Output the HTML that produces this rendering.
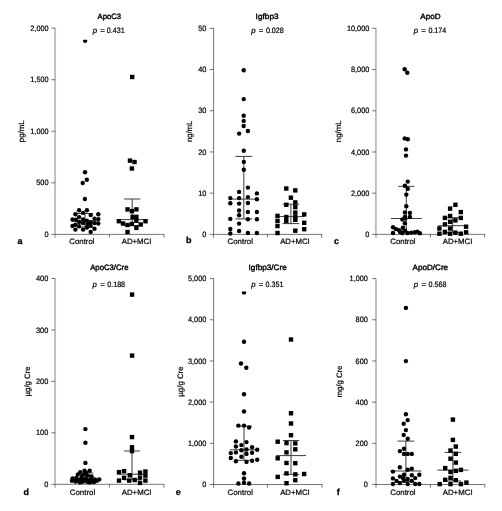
<!DOCTYPE html>
<html lang="en"><head><meta charset="utf-8"><title>Figure</title>
<style>html,body{margin:0;padding:0;background:#fff}svg{display:block}text{font-family:"Liberation Sans", Arial, Helvetica, sans-serif;fill:#000;text-rendering:geometricPrecision}.t{font-size:7.8px;stroke:#000;stroke-width:.21px}.ti{font-size:7.8px;stroke:#000;stroke-width:.38px}.l{font-size:9px;font-weight:bold;stroke:#000;stroke-width:.25px}.ax{stroke:#404040;stroke-width:.72;fill:none}.ay{stroke:#bdbdbd;stroke-width:1.9;fill:none}.eb{stroke:#3c3c3c;stroke-width:1;fill:none}.d{fill:#000}</style></head><body>
<svg width="502" height="511" viewBox="0 0 502 511">
<rect width="502" height="511" fill="#fff"/>
<g>
<line class="ay" x1="55.1" y1="27.95" x2="55.1" y2="237.7"/>
<line class="ax" x1="51.2" y1="234.4" x2="164.3" y2="234.4"/>
<line class="ax" x1="109.45" y1="234.4" x2="109.45" y2="237.6"/>
<line class="ax" x1="164" y1="234.4" x2="164" y2="237.6"/>
<text class="t" x="44.48" y="236.95" textLength="4.12" lengthAdjust="spacingAndGlyphs">0</text>
<line class="ax" x1="51.2" y1="182.84" x2="55.1" y2="182.84"/>
<text class="t" x="36.24" y="185.39" textLength="12.36" lengthAdjust="spacingAndGlyphs">500</text>
<line class="ax" x1="51.2" y1="131.28" x2="55.1" y2="131.28"/>
<text class="t" x="30.32" y="133.83" textLength="18.28" lengthAdjust="spacingAndGlyphs">1,000</text>
<line class="ax" x1="51.2" y1="79.71" x2="55.1" y2="79.71"/>
<text class="t" x="30.32" y="82.26" textLength="18.28" lengthAdjust="spacingAndGlyphs">1,500</text>
<line class="ax" x1="51.2" y1="28.15" x2="55.1" y2="28.15"/>
<text class="t" x="30.32" y="30.7" textLength="18.28" lengthAdjust="spacingAndGlyphs">2,000</text>
<path class="eb" d="M85 213.5V227M76.9 213.5H93.1M76.9 227H93.1M71.5 221H98.5"/>
<path class="eb" d="M132.2 199V225.5M124.1 199H140.3M124.1 225.5H140.3M117.2 219.6H147.2"/>
<circle class="d" cx="85" cy="172.3" r="2.2"/>
<circle class="d" cx="86.8" cy="179.7" r="2.2"/>
<circle class="d" cx="82.7" cy="183" r="2.2"/>
<circle class="d" cx="84.9" cy="199" r="2.2"/>
<circle class="d" cx="79.1" cy="210.2" r="2.2"/>
<circle class="d" cx="86.9" cy="210.2" r="2.2"/>
<circle class="d" cx="75.4" cy="214.2" r="2.2"/>
<circle class="d" cx="83.1" cy="212.9" r="2.2"/>
<circle class="d" cx="90.7" cy="215.1" r="2.2"/>
<circle class="d" cx="98.3" cy="214.2" r="2.2"/>
<circle class="d" cx="79.1" cy="217.1" r="2.2"/>
<circle class="d" cx="72.5" cy="219.5" r="2.2"/>
<circle class="d" cx="76" cy="219.8" r="2.2"/>
<circle class="d" cx="83.1" cy="219.5" r="2.2"/>
<circle class="d" cx="86.9" cy="220.7" r="2.2"/>
<circle class="d" cx="94.5" cy="218.7" r="2.2"/>
<circle class="d" cx="98.3" cy="219.1" r="2.2"/>
<circle class="d" cx="79.1" cy="221.9" r="2.2"/>
<circle class="d" cx="83.1" cy="223.1" r="2.2"/>
<circle class="d" cx="90.7" cy="222.3" r="2.2"/>
<circle class="d" cx="94.5" cy="223.1" r="2.2"/>
<circle class="d" cx="98.3" cy="223.5" r="2.2"/>
<circle class="d" cx="72.5" cy="225.9" r="2.2"/>
<circle class="d" cx="75.4" cy="224.7" r="2.2"/>
<circle class="d" cx="79.1" cy="226.3" r="2.2"/>
<circle class="d" cx="86.9" cy="227.5" r="2.2"/>
<circle class="d" cx="90.7" cy="225.9" r="2.2"/>
<circle class="d" cx="75.4" cy="229.6" r="2.2"/>
<circle class="d" cx="83.1" cy="229.6" r="2.2"/>
<circle class="d" cx="94.5" cy="228.7" r="2.2"/>
<circle class="d" cx="90.7" cy="231.9" r="2.2"/>
<circle class="d" cx="87.5" cy="224" r="2.2"/>
<clipPath id="c1"><rect x="81.15" y="39.7" width="8" height="8"/></clipPath>
<circle class="d" cx="85.15" cy="40.8" r="2.2" clip-path="url(#c1)"/>
<rect class="d" x="130" y="74.8" width="4.4" height="4.4"/>
<rect class="d" x="127.8" y="158.4" width="4.4" height="4.4"/>
<rect class="d" x="132.3" y="159.8" width="4.4" height="4.4"/>
<rect class="d" x="129.7" y="166.3" width="4.4" height="4.4"/>
<rect class="d" x="125.3" y="207.2" width="4.4" height="4.4"/>
<rect class="d" x="134.2" y="207.2" width="4.4" height="4.4"/>
<rect class="d" x="129.7" y="208.9" width="4.4" height="4.4"/>
<rect class="d" x="130.4" y="214.7" width="4.4" height="4.4"/>
<rect class="d" x="134.2" y="214.7" width="4.4" height="4.4"/>
<rect class="d" x="116.7" y="219" width="4.4" height="4.4"/>
<rect class="d" x="143.3" y="219" width="4.4" height="4.4"/>
<rect class="d" x="134.2" y="218.5" width="4.4" height="4.4"/>
<rect class="d" x="120.8" y="221.3" width="4.4" height="4.4"/>
<rect class="d" x="138.5" y="222.3" width="4.4" height="4.4"/>
<rect class="d" x="125.3" y="222.8" width="4.4" height="4.4"/>
<rect class="d" x="129.7" y="221.8" width="4.4" height="4.4"/>
<rect class="d" x="134.2" y="225.7" width="4.4" height="4.4"/>
<rect class="d" x="125.3" y="229.8" width="4.4" height="4.4"/>
<text class="ti" x="97.6" y="18.8" textLength="23.5" lengthAdjust="spacingAndGlyphs">ApoC3</text>
<text class="t" y="32.8"><tspan x="92.7" font-style="italic">p</tspan><tspan x="100.3">=</tspan><tspan x="106.8" textLength="17.9" lengthAdjust="spacingAndGlyphs">0.431</tspan></text>
<text class="t" transform="translate(23.9 131.28) rotate(-90)" x="-10.95" y="0" textLength="21.9" lengthAdjust="spacingAndGlyphs">pg/mL</text>
<text class="t" x="69.3" y="243.6" textLength="25.2" lengthAdjust="spacingAndGlyphs">Control</text>
<text class="t" x="121.7" y="243.6" textLength="29.7" lengthAdjust="spacingAndGlyphs">AD+MCI</text>
<text class="l" x="17.4" y="243.9">a</text>
</g>
<g>
<line class="ax" x1="213.6" y1="28" x2="213.6" y2="237.7"/>
<line class="ax" x1="209.7" y1="234.4" x2="322" y2="234.4"/>
<line class="ax" x1="267.4" y1="234.4" x2="267.4" y2="237.6"/>
<line class="ax" x1="321.7" y1="234.4" x2="321.7" y2="237.6"/>
<text class="t" x="202.28" y="236.95" textLength="4.12" lengthAdjust="spacingAndGlyphs">0</text>
<line class="ax" x1="209.7" y1="193.18" x2="213.6" y2="193.18"/>
<text class="t" x="198.16" y="195.73" textLength="8.24" lengthAdjust="spacingAndGlyphs">10</text>
<line class="ax" x1="209.7" y1="151.96" x2="213.6" y2="151.96"/>
<text class="t" x="198.16" y="154.51" textLength="8.24" lengthAdjust="spacingAndGlyphs">20</text>
<line class="ax" x1="209.7" y1="110.74" x2="213.6" y2="110.74"/>
<text class="t" x="198.16" y="113.29" textLength="8.24" lengthAdjust="spacingAndGlyphs">30</text>
<line class="ax" x1="209.7" y1="69.52" x2="213.6" y2="69.52"/>
<text class="t" x="198.16" y="72.07" textLength="8.24" lengthAdjust="spacingAndGlyphs">40</text>
<line class="ax" x1="209.7" y1="28.3" x2="213.6" y2="28.3"/>
<text class="t" x="198.16" y="30.85" textLength="8.24" lengthAdjust="spacingAndGlyphs">50</text>
<path class="eb" d="M243.8 156.4V218.9M235.3 156.4H252.3M235.3 218.9H252.3M230.4 199.1H257.2"/>
<path class="eb" d="M290.9 204.2V223.6M282.6 204.2H299.2M282.6 223.6H299.2M277.5 216.6H304.3"/>
<circle class="d" cx="243.7" cy="70.2" r="2.2"/>
<circle class="d" cx="243.7" cy="99.1" r="2.2"/>
<circle class="d" cx="243.7" cy="115.8" r="2.2"/>
<circle class="d" cx="243.7" cy="120.9" r="2.2"/>
<circle class="d" cx="243.7" cy="126" r="2.2"/>
<circle class="d" cx="247.9" cy="131" r="2.2"/>
<circle class="d" cx="239.1" cy="133.6" r="2.2"/>
<circle class="d" cx="243.8" cy="150.8" r="2.2"/>
<circle class="d" cx="243.8" cy="161.9" r="2.2"/>
<circle class="d" cx="243.8" cy="169.7" r="2.2"/>
<circle class="d" cx="247.9" cy="187.6" r="2.2"/>
<circle class="d" cx="239.1" cy="191.9" r="2.2"/>
<circle class="d" cx="256.9" cy="193.4" r="2.2"/>
<circle class="d" cx="230.3" cy="198.1" r="2.2"/>
<circle class="d" cx="239.1" cy="198.1" r="2.2"/>
<circle class="d" cx="247.9" cy="197.1" r="2.2"/>
<circle class="d" cx="256.9" cy="199.3" r="2.2"/>
<circle class="d" cx="230.3" cy="203.2" r="2.2"/>
<circle class="d" cx="239.1" cy="203.6" r="2.2"/>
<circle class="d" cx="247.9" cy="203" r="2.2"/>
<circle class="d" cx="239.1" cy="210.5" r="2.2"/>
<circle class="d" cx="247.9" cy="212" r="2.2"/>
<circle class="d" cx="256.9" cy="212" r="2.2"/>
<circle class="d" cx="239.1" cy="215.3" r="2.2"/>
<circle class="d" cx="230.3" cy="218.9" r="2.2"/>
<circle class="d" cx="247.9" cy="219.3" r="2.2"/>
<circle class="d" cx="256.9" cy="219.3" r="2.2"/>
<circle class="d" cx="239.1" cy="223.6" r="2.2"/>
<circle class="d" cx="230.3" cy="229" r="2.2"/>
<circle class="d" cx="239.1" cy="231" r="2.2"/>
<circle class="d" cx="230.3" cy="233.5" r="2.2"/>
<circle class="d" cx="247.9" cy="233" r="2.2"/>
<circle class="d" cx="256.9" cy="233" r="2.2"/>
<rect class="d" x="284.1" y="186.3" width="4.4" height="4.4"/>
<rect class="d" x="293.1" y="188.2" width="4.4" height="4.4"/>
<rect class="d" x="288.7" y="195.5" width="4.4" height="4.4"/>
<rect class="d" x="293.1" y="200.2" width="4.4" height="4.4"/>
<rect class="d" x="284.1" y="202.6" width="4.4" height="4.4"/>
<rect class="d" x="293.1" y="204.9" width="4.4" height="4.4"/>
<rect class="d" x="293.1" y="210.4" width="4.4" height="4.4"/>
<rect class="d" x="302" y="212.2" width="4.4" height="4.4"/>
<rect class="d" x="275.3" y="213.7" width="4.4" height="4.4"/>
<rect class="d" x="284.1" y="214.8" width="4.4" height="4.4"/>
<rect class="d" x="293.1" y="214.8" width="4.4" height="4.4"/>
<rect class="d" x="275.3" y="218.7" width="4.4" height="4.4"/>
<rect class="d" x="284.1" y="218.8" width="4.4" height="4.4"/>
<rect class="d" x="293.1" y="217.6" width="4.4" height="4.4"/>
<rect class="d" x="302" y="220.6" width="4.4" height="4.4"/>
<rect class="d" x="275.3" y="223.8" width="4.4" height="4.4"/>
<rect class="d" x="302" y="227" width="4.4" height="4.4"/>
<rect class="d" x="293.1" y="228.5" width="4.4" height="4.4"/>
<rect class="d" x="275.3" y="230.8" width="4.4" height="4.4"/>
<text class="ti" x="255.6" y="18.7" textLength="23" lengthAdjust="spacingAndGlyphs">Igfbp3</text>
<text class="t" y="33"><tspan x="251.2" font-style="italic">p</tspan><tspan x="258.8">=</tspan><tspan x="265.9" textLength="17.9" lengthAdjust="spacingAndGlyphs">0.028</tspan></text>
<text class="t" transform="translate(192.4 131.35) rotate(-90)" x="-10.6" y="0" textLength="21.2" lengthAdjust="spacingAndGlyphs">ng/mL</text>
<text class="t" x="227.6" y="243.6" textLength="25.3" lengthAdjust="spacingAndGlyphs">Control</text>
<text class="t" x="280.2" y="243.6" textLength="29.6" lengthAdjust="spacingAndGlyphs">AD+MCI</text>
<text class="l" x="185.9" y="243.4">b</text>
</g>
<g>
<line class="ay" x1="375.9" y1="28.1" x2="375.9" y2="237.7"/>
<line class="ax" x1="372.1" y1="234.4" x2="485" y2="234.4"/>
<line class="ax" x1="430.5" y1="234.4" x2="430.5" y2="237.6"/>
<line class="ax" x1="484.7" y1="234.4" x2="484.7" y2="237.6"/>
<text class="t" x="365.18" y="236.95" textLength="4.12" lengthAdjust="spacingAndGlyphs">0</text>
<line class="ax" x1="372.1" y1="193.18" x2="375.9" y2="193.18"/>
<text class="t" x="351.02" y="195.73" textLength="18.28" lengthAdjust="spacingAndGlyphs">2,000</text>
<line class="ax" x1="372.1" y1="151.96" x2="375.9" y2="151.96"/>
<text class="t" x="351.02" y="154.51" textLength="18.28" lengthAdjust="spacingAndGlyphs">4,000</text>
<line class="ax" x1="372.1" y1="110.74" x2="375.9" y2="110.74"/>
<text class="t" x="351.02" y="113.29" textLength="18.28" lengthAdjust="spacingAndGlyphs">6,000</text>
<line class="ax" x1="372.1" y1="69.52" x2="375.9" y2="69.52"/>
<text class="t" x="351.02" y="72.07" textLength="18.28" lengthAdjust="spacingAndGlyphs">8,000</text>
<line class="ax" x1="372.1" y1="28.3" x2="375.9" y2="28.3"/>
<text class="t" x="346.9" y="30.85" textLength="22.4" lengthAdjust="spacingAndGlyphs">10,000</text>
<path class="eb" d="M406.3 186.3V233M398.2 186.3H414.4M398.2 233H414.4M390.9 218.5H421.7"/>
<path class="eb" d="M452.6 217.7V232.5M444.5 217.7H460.7M444.5 232.5H460.7M438.1 225.7H467.1"/>
<circle class="d" cx="404.7" cy="69.2" r="2.2"/>
<circle class="d" cx="407.3" cy="72.7" r="2.2"/>
<circle class="d" cx="404.7" cy="138.4" r="2.2"/>
<circle class="d" cx="407.8" cy="139.3" r="2.2"/>
<circle class="d" cx="406" cy="149.4" r="2.2"/>
<circle class="d" cx="406" cy="155.6" r="2.2"/>
<circle class="d" cx="407.8" cy="181.6" r="2.2"/>
<circle class="d" cx="404.9" cy="185.8" r="2.2"/>
<circle class="d" cx="407.8" cy="188.8" r="2.2"/>
<circle class="d" cx="406.3" cy="194.6" r="2.2"/>
<circle class="d" cx="406.3" cy="206.2" r="2.2"/>
<circle class="d" cx="404.9" cy="212.4" r="2.2"/>
<circle class="d" cx="409.9" cy="212.9" r="2.2"/>
<circle class="d" cx="404.9" cy="217" r="2.2"/>
<circle class="d" cx="409.9" cy="217" r="2.2"/>
<circle class="d" cx="402.4" cy="219.4" r="2.2"/>
<circle class="d" cx="405.4" cy="218.4" r="2.2"/>
<circle class="d" cx="404.9" cy="223.2" r="2.2"/>
<circle class="d" cx="393" cy="227.3" r="2.2"/>
<circle class="d" cx="395.8" cy="229" r="2.2"/>
<circle class="d" cx="399.1" cy="230.2" r="2.2"/>
<circle class="d" cx="402.9" cy="227.8" r="2.2"/>
<circle class="d" cx="404.9" cy="230.6" r="2.2"/>
<circle class="d" cx="393" cy="233" r="2.2"/>
<circle class="d" cx="402.4" cy="233" r="2.2"/>
<circle class="d" cx="407.4" cy="233" r="2.2"/>
<circle class="d" cx="411.2" cy="232.6" r="2.2"/>
<circle class="d" cx="414.9" cy="232.3" r="2.2"/>
<circle class="d" cx="417.4" cy="231.8" r="2.2"/>
<circle class="d" cx="419.9" cy="233.3" r="2.2"/>
<circle class="d" cx="400.5" cy="232.2" r="2.2"/>
<rect class="d" x="453.2" y="202.6" width="4.4" height="4.4"/>
<rect class="d" x="447.9" y="206.4" width="4.4" height="4.4"/>
<rect class="d" x="458.6" y="209.9" width="4.4" height="4.4"/>
<rect class="d" x="447.9" y="213.8" width="4.4" height="4.4"/>
<rect class="d" x="442.7" y="215.7" width="4.4" height="4.4"/>
<rect class="d" x="458.6" y="215.7" width="4.4" height="4.4"/>
<rect class="d" x="453.2" y="218.2" width="4.4" height="4.4"/>
<rect class="d" x="447.9" y="219.6" width="4.4" height="4.4"/>
<rect class="d" x="442.7" y="222.2" width="4.4" height="4.4"/>
<rect class="d" x="463.9" y="224.5" width="4.4" height="4.4"/>
<rect class="d" x="437.2" y="226.3" width="4.4" height="4.4"/>
<rect class="d" x="447.9" y="226.3" width="4.4" height="4.4"/>
<rect class="d" x="442.7" y="229.7" width="4.4" height="4.4"/>
<rect class="d" x="453.2" y="230.5" width="4.4" height="4.4"/>
<rect class="d" x="463.9" y="230.1" width="4.4" height="4.4"/>
<rect class="d" x="437.2" y="231.5" width="4.4" height="4.4"/>
<rect class="d" x="447.9" y="231.5" width="4.4" height="4.4"/>
<rect class="d" x="458.6" y="231.5" width="4.4" height="4.4"/>
<text class="ti" x="420.3" y="18.7" textLength="20.4" lengthAdjust="spacingAndGlyphs">ApoD</text>
<text class="t" y="33"><tspan x="413.7" font-style="italic">p</tspan><tspan x="421.3">=</tspan><tspan x="428.4" textLength="17.9" lengthAdjust="spacingAndGlyphs">0.174</tspan></text>
<text class="t" transform="translate(340.6 131.35) rotate(-90)" x="-10.8" y="0" textLength="21.6" lengthAdjust="spacingAndGlyphs">ng/mL</text>
<text class="t" x="390.3" y="243.5" textLength="25.2" lengthAdjust="spacingAndGlyphs">Control</text>
<text class="t" x="442.7" y="243.5" textLength="29.7" lengthAdjust="spacingAndGlyphs">AD+MCI</text>
<text class="l" x="334" y="243.6">c</text>
</g>
<g>
<line class="ay" x1="55.1" y1="278.3" x2="55.1" y2="487.6"/>
<line class="ax" x1="51.3" y1="484.3" x2="164.2" y2="484.3"/>
<line class="ax" x1="109.4" y1="484.3" x2="109.4" y2="487.5"/>
<line class="ax" x1="163.9" y1="484.3" x2="163.9" y2="487.5"/>
<text class="t" x="44.18" y="486.85" textLength="4.12" lengthAdjust="spacingAndGlyphs">0</text>
<line class="ax" x1="51.3" y1="432.85" x2="55.1" y2="432.85"/>
<text class="t" x="35.94" y="435.4" textLength="12.36" lengthAdjust="spacingAndGlyphs">100</text>
<line class="ax" x1="51.3" y1="381.4" x2="55.1" y2="381.4"/>
<text class="t" x="35.94" y="383.95" textLength="12.36" lengthAdjust="spacingAndGlyphs">200</text>
<line class="ax" x1="51.3" y1="329.95" x2="55.1" y2="329.95"/>
<text class="t" x="35.94" y="332.5" textLength="12.36" lengthAdjust="spacingAndGlyphs">300</text>
<line class="ax" x1="51.3" y1="278.5" x2="55.1" y2="278.5"/>
<text class="t" x="35.94" y="281.05" textLength="12.36" lengthAdjust="spacingAndGlyphs">400</text>
<path class="eb" d="M85.3 473V482M77.2 473H93.4M77.2 482H93.4M71.8 479.5H98.8"/>
<path class="eb" d="M132 451V479.8M123.9 451H140.1M123.9 479.8H140.1M117.1 474.2H146.9"/>
<circle class="d" cx="85.4" cy="429.1" r="2.2"/>
<circle class="d" cx="85.4" cy="442.7" r="2.2"/>
<circle class="d" cx="85.4" cy="462.9" r="2.2"/>
<circle class="d" cx="84.5" cy="470.8" r="2.2"/>
<circle class="d" cx="89.7" cy="470.8" r="2.2"/>
<circle class="d" cx="80.2" cy="472.2" r="2.2"/>
<circle class="d" cx="77.8" cy="474.6" r="2.2"/>
<circle class="d" cx="84.5" cy="474.2" r="2.2"/>
<circle class="d" cx="87.8" cy="475.6" r="2.2"/>
<circle class="d" cx="91.6" cy="476.5" r="2.2"/>
<circle class="d" cx="72.5" cy="478.4" r="2.2"/>
<circle class="d" cx="76.3" cy="478" r="2.2"/>
<circle class="d" cx="81.1" cy="478.4" r="2.2"/>
<circle class="d" cx="85.9" cy="478.9" r="2.2"/>
<circle class="d" cx="90.7" cy="478.9" r="2.2"/>
<circle class="d" cx="95" cy="479.4" r="2.2"/>
<circle class="d" cx="99.3" cy="479.4" r="2.2"/>
<circle class="d" cx="72" cy="480.8" r="2.2"/>
<circle class="d" cx="79.7" cy="482.2" r="2.2"/>
<circle class="d" cx="83.5" cy="481.3" r="2.2"/>
<circle class="d" cx="87.3" cy="481.8" r="2.2"/>
<circle class="d" cx="92.6" cy="481.3" r="2.2"/>
<circle class="d" cx="96.9" cy="480.8" r="2.2"/>
<circle class="d" cx="75.5" cy="481.5" r="2.2"/>
<circle class="d" cx="89.5" cy="482.4" r="2.2"/>
<circle class="d" cx="82" cy="476" r="2.2"/>
<circle class="d" cx="94" cy="482" r="2.2"/>
<circle class="d" cx="78" cy="480" r="2.2"/>
<circle class="d" cx="86" cy="472.5" r="2.2"/>
<circle class="d" cx="88.5" cy="480.5" r="2.2"/>
<circle class="d" cx="81.5" cy="482" r="2.2"/>
<circle class="d" cx="91" cy="481.5" r="2.2"/>
<circle class="d" cx="84" cy="479.5" r="2.2"/>
<rect class="d" x="129.9" y="292.4" width="4.4" height="4.4"/>
<rect class="d" x="129.9" y="353.4" width="4.4" height="4.4"/>
<rect class="d" x="129.8" y="434.9" width="4.4" height="4.4"/>
<rect class="d" x="129.8" y="445.1" width="4.4" height="4.4"/>
<rect class="d" x="129.8" y="448.9" width="4.4" height="4.4"/>
<rect class="d" x="116.8" y="469.9" width="4.4" height="4.4"/>
<rect class="d" x="121.9" y="468.9" width="4.4" height="4.4"/>
<rect class="d" x="137.8" y="470.5" width="4.4" height="4.4"/>
<rect class="d" x="143.2" y="469.3" width="4.4" height="4.4"/>
<rect class="d" x="127.6" y="473.1" width="4.4" height="4.4"/>
<rect class="d" x="143.2" y="473.4" width="4.4" height="4.4"/>
<rect class="d" x="121.9" y="475.6" width="4.4" height="4.4"/>
<rect class="d" x="137.8" y="475.4" width="4.4" height="4.4"/>
<rect class="d" x="116.8" y="478.4" width="4.4" height="4.4"/>
<rect class="d" x="127" y="478.4" width="4.4" height="4.4"/>
<rect class="d" x="132.5" y="477.8" width="4.4" height="4.4"/>
<rect class="d" x="143.2" y="478.4" width="4.4" height="4.4"/>
<rect class="d" x="137.8" y="480.7" width="4.4" height="4.4"/>
<text class="ti" x="90.2" y="269.5" textLength="38.3" lengthAdjust="spacingAndGlyphs">ApoC3/Cre</text>
<text class="t" y="286.8"><tspan x="92.6" font-style="italic">p</tspan><tspan x="100.2">=</tspan><tspan x="107.2" textLength="17.9" lengthAdjust="spacingAndGlyphs">0.188</tspan></text>
<text class="t" transform="translate(30 381.4) rotate(-90)" x="-15" y="0" textLength="30" lengthAdjust="spacingAndGlyphs">µg/g Cre</text>
<text class="t" x="69.8" y="494.6" textLength="25.4" lengthAdjust="spacingAndGlyphs">Control</text>
<text class="t" x="121.7" y="494.6" textLength="29.8" lengthAdjust="spacingAndGlyphs">AD+MCI</text>
<text class="l" x="23.4" y="494.7">d</text>
</g>
<g>
<line class="ax" x1="213.6" y1="278.3" x2="213.6" y2="487.8"/>
<line class="ax" x1="209.8" y1="484.5" x2="322.3" y2="484.5"/>
<line class="ax" x1="267.4" y1="484.5" x2="267.4" y2="487.7"/>
<line class="ax" x1="322" y1="484.5" x2="322" y2="487.7"/>
<text class="t" x="202.18" y="487.05" textLength="4.12" lengthAdjust="spacingAndGlyphs">0</text>
<line class="ax" x1="209.8" y1="443.32" x2="213.6" y2="443.32"/>
<text class="t" x="188.02" y="445.87" textLength="18.28" lengthAdjust="spacingAndGlyphs">1,000</text>
<line class="ax" x1="209.8" y1="402.14" x2="213.6" y2="402.14"/>
<text class="t" x="188.02" y="404.69" textLength="18.28" lengthAdjust="spacingAndGlyphs">2,000</text>
<line class="ax" x1="209.8" y1="360.96" x2="213.6" y2="360.96"/>
<text class="t" x="188.02" y="363.51" textLength="18.28" lengthAdjust="spacingAndGlyphs">3,000</text>
<line class="ax" x1="209.8" y1="319.78" x2="213.6" y2="319.78"/>
<text class="t" x="188.02" y="322.33" textLength="18.28" lengthAdjust="spacingAndGlyphs">4,000</text>
<line class="ax" x1="209.8" y1="278.6" x2="213.6" y2="278.6"/>
<text class="t" x="188.02" y="281.15" textLength="18.28" lengthAdjust="spacingAndGlyphs">5,000</text>
<path class="eb" d="M244 426.2V460.3M236 426.2H252M236 460.3H252M229.7 449.8H258.3"/>
<path class="eb" d="M291 440.5V474.4M282.9 440.5H299.1M282.9 474.4H299.1M275.9 455.6H306.1"/>
<circle class="d" cx="244" cy="341.8" r="2.2"/>
<circle class="d" cx="241" cy="363.5" r="2.2"/>
<circle class="d" cx="246.3" cy="367.8" r="2.2"/>
<circle class="d" cx="244" cy="394.2" r="2.2"/>
<circle class="d" cx="244" cy="411.5" r="2.2"/>
<circle class="d" cx="238.4" cy="425.6" r="2.2"/>
<circle class="d" cx="244" cy="425.6" r="2.2"/>
<circle class="d" cx="249.1" cy="427.5" r="2.2"/>
<circle class="d" cx="235.9" cy="441.4" r="2.2"/>
<circle class="d" cx="246.5" cy="442.1" r="2.2"/>
<circle class="d" cx="235.9" cy="446.5" r="2.2"/>
<circle class="d" cx="241.4" cy="445.1" r="2.2"/>
<circle class="d" cx="241.4" cy="450.2" r="2.2"/>
<circle class="d" cx="246.5" cy="449.5" r="2.2"/>
<circle class="d" cx="252.1" cy="447.3" r="2.2"/>
<circle class="d" cx="257.2" cy="449.8" r="2.2"/>
<circle class="d" cx="230.8" cy="453.1" r="2.2"/>
<circle class="d" cx="235.9" cy="452.4" r="2.2"/>
<circle class="d" cx="246.5" cy="453.9" r="2.2"/>
<circle class="d" cx="252.1" cy="452.8" r="2.2"/>
<circle class="d" cx="230.8" cy="458" r="2.2"/>
<circle class="d" cx="241.4" cy="456.8" r="2.2"/>
<circle class="d" cx="235.9" cy="461.2" r="2.2"/>
<circle class="d" cx="246.5" cy="461.9" r="2.2"/>
<circle class="d" cx="252.1" cy="460.7" r="2.2"/>
<circle class="d" cx="257.2" cy="459.7" r="2.2"/>
<circle class="d" cx="244" cy="473.2" r="2.2"/>
<circle class="d" cx="244" cy="478.5" r="2.2"/>
<circle class="d" cx="238.4" cy="483.5" r="2.2"/>
<circle class="d" cx="244" cy="482.7" r="2.2"/>
<circle class="d" cx="249.1" cy="483.5" r="2.2"/>
<clipPath id="c2"><rect x="239.95" y="291.5" width="8" height="8"/></clipPath>
<circle class="d" cx="243.95" cy="292.4" r="2.2" clip-path="url(#c2)"/>
<rect class="d" x="288.8" y="337.3" width="4.4" height="4.4"/>
<rect class="d" x="288.8" y="411.1" width="4.4" height="4.4"/>
<rect class="d" x="288.8" y="421.3" width="4.4" height="4.4"/>
<rect class="d" x="288.8" y="433" width="4.4" height="4.4"/>
<rect class="d" x="275.5" y="439.5" width="4.4" height="4.4"/>
<rect class="d" x="284.3" y="440.9" width="4.4" height="4.4"/>
<rect class="d" x="293.1" y="441.2" width="4.4" height="4.4"/>
<rect class="d" x="293.1" y="447.1" width="4.4" height="4.4"/>
<rect class="d" x="284.3" y="450.2" width="4.4" height="4.4"/>
<rect class="d" x="275.5" y="456.1" width="4.4" height="4.4"/>
<rect class="d" x="284.3" y="460.8" width="4.4" height="4.4"/>
<rect class="d" x="293.1" y="461" width="4.4" height="4.4"/>
<rect class="d" x="284.3" y="471.2" width="4.4" height="4.4"/>
<rect class="d" x="293.1" y="472.2" width="4.4" height="4.4"/>
<rect class="d" x="301.9" y="471.8" width="4.4" height="4.4"/>
<rect class="d" x="275.5" y="474.7" width="4.4" height="4.4"/>
<rect class="d" x="293.1" y="478" width="4.4" height="4.4"/>
<rect class="d" x="284.3" y="481" width="4.4" height="4.4"/>
<text class="ti" x="248.55" y="269.6" textLength="38.3" lengthAdjust="spacingAndGlyphs">Igfbp3/Cre</text>
<text class="t" y="286.9"><tspan x="251.2" font-style="italic">p</tspan><tspan x="258.8">=</tspan><tspan x="265.5" textLength="17.9" lengthAdjust="spacingAndGlyphs">0.351</tspan></text>
<text class="t" transform="translate(182.5 381.55) rotate(-90)" x="-15.15" y="0" textLength="30.3" lengthAdjust="spacingAndGlyphs">µg/g Cre</text>
<text class="t" x="227.6" y="494.6" textLength="25.3" lengthAdjust="spacingAndGlyphs">Control</text>
<text class="t" x="280.2" y="494.6" textLength="29.6" lengthAdjust="spacingAndGlyphs">AD+MCI</text>
<text class="l" x="175.7" y="494.5">e</text>
</g>
<g>
<line class="ay" x1="376" y1="278.4" x2="376" y2="487.8"/>
<line class="ax" x1="372" y1="484.5" x2="485.1" y2="484.5"/>
<line class="ax" x1="430.4" y1="484.5" x2="430.4" y2="487.7"/>
<line class="ax" x1="484.8" y1="484.5" x2="484.8" y2="487.7"/>
<text class="t" x="363.78" y="487.05" textLength="4.12" lengthAdjust="spacingAndGlyphs">0</text>
<line class="ax" x1="372" y1="443.32" x2="376" y2="443.32"/>
<text class="t" x="355.54" y="445.87" textLength="12.36" lengthAdjust="spacingAndGlyphs">200</text>
<line class="ax" x1="372" y1="402.14" x2="376" y2="402.14"/>
<text class="t" x="355.54" y="404.69" textLength="12.36" lengthAdjust="spacingAndGlyphs">400</text>
<line class="ax" x1="372" y1="360.96" x2="376" y2="360.96"/>
<text class="t" x="355.54" y="363.51" textLength="12.36" lengthAdjust="spacingAndGlyphs">600</text>
<line class="ax" x1="372" y1="319.78" x2="376" y2="319.78"/>
<text class="t" x="355.54" y="322.33" textLength="12.36" lengthAdjust="spacingAndGlyphs">800</text>
<line class="ax" x1="372" y1="278.6" x2="376" y2="278.6"/>
<text class="t" x="349.62" y="281.15" textLength="18.28" lengthAdjust="spacingAndGlyphs">1,000</text>
<path class="eb" d="M405.9 441.1V481.5M397.6 441.1H414.2M397.6 481.5H414.2M390.5 471H421.3"/>
<path class="eb" d="M452.9 452.4V481M444.6 452.4H461.2M444.6 481H461.2M437.3 470.1H468.5"/>
<circle class="d" cx="405.9" cy="307.9" r="2.2"/>
<circle class="d" cx="405.9" cy="361.1" r="2.2"/>
<circle class="d" cx="405.9" cy="414.3" r="2.2"/>
<circle class="d" cx="407.7" cy="420.1" r="2.2"/>
<circle class="d" cx="403.7" cy="423.8" r="2.2"/>
<circle class="d" cx="405.9" cy="430.1" r="2.2"/>
<circle class="d" cx="403.7" cy="434.9" r="2.2"/>
<circle class="d" cx="407.7" cy="438.7" r="2.2"/>
<circle class="d" cx="404" cy="448.7" r="2.2"/>
<circle class="d" cx="399.9" cy="451.1" r="2.2"/>
<circle class="d" cx="404" cy="453.9" r="2.2"/>
<circle class="d" cx="407.7" cy="453.9" r="2.2"/>
<circle class="d" cx="411.8" cy="453.9" r="2.2"/>
<circle class="d" cx="399.9" cy="467.3" r="2.2"/>
<circle class="d" cx="407.7" cy="469.7" r="2.2"/>
<circle class="d" cx="411.8" cy="468.8" r="2.2"/>
<circle class="d" cx="392.9" cy="471.6" r="2.2"/>
<circle class="d" cx="404" cy="474.7" r="2.2"/>
<circle class="d" cx="411.8" cy="475.3" r="2.2"/>
<circle class="d" cx="419.3" cy="474.7" r="2.2"/>
<circle class="d" cx="399.9" cy="476.6" r="2.2"/>
<circle class="d" cx="392.9" cy="478.4" r="2.2"/>
<circle class="d" cx="403" cy="478" r="2.2"/>
<circle class="d" cx="407.7" cy="479" r="2.2"/>
<circle class="d" cx="415.2" cy="478.1" r="2.2"/>
<circle class="d" cx="396.6" cy="480.9" r="2.2"/>
<circle class="d" cx="404" cy="480.9" r="2.2"/>
<circle class="d" cx="411.8" cy="480.9" r="2.2"/>
<circle class="d" cx="392.9" cy="484" r="2.2"/>
<circle class="d" cx="399.9" cy="483.1" r="2.2"/>
<circle class="d" cx="407.7" cy="484" r="2.2"/>
<circle class="d" cx="415.2" cy="484" r="2.2"/>
<circle class="d" cx="419.3" cy="484" r="2.2"/>
<rect class="d" x="450.7" y="417.4" width="4.4" height="4.4"/>
<rect class="d" x="450.7" y="437.7" width="4.4" height="4.4"/>
<rect class="d" x="453.6" y="444.4" width="4.4" height="4.4"/>
<rect class="d" x="448.3" y="448.3" width="4.4" height="4.4"/>
<rect class="d" x="453.6" y="451.6" width="4.4" height="4.4"/>
<rect class="d" x="448.3" y="456.5" width="4.4" height="4.4"/>
<rect class="d" x="453.6" y="460.4" width="4.4" height="4.4"/>
<rect class="d" x="443" y="465.9" width="4.4" height="4.4"/>
<rect class="d" x="458.7" y="467.7" width="4.4" height="4.4"/>
<rect class="d" x="453.6" y="468.6" width="4.4" height="4.4"/>
<rect class="d" x="448.3" y="469.8" width="4.4" height="4.4"/>
<rect class="d" x="448.3" y="475.7" width="4.4" height="4.4"/>
<rect class="d" x="443" y="477.6" width="4.4" height="4.4"/>
<rect class="d" x="453.6" y="478" width="4.4" height="4.4"/>
<rect class="d" x="464.2" y="480.4" width="4.4" height="4.4"/>
<rect class="d" x="437.5" y="481.9" width="4.4" height="4.4"/>
<rect class="d" x="448.3" y="481.9" width="4.4" height="4.4"/>
<rect class="d" x="458.7" y="481.9" width="4.4" height="4.4"/>
<text class="ti" x="412.5" y="269.8" textLength="35.6" lengthAdjust="spacingAndGlyphs">ApoD/Cre</text>
<text class="t" y="287.2"><tspan x="413.8" font-style="italic">p</tspan><tspan x="421.4">=</tspan><tspan x="428.5" textLength="17.9" lengthAdjust="spacingAndGlyphs">0.568</tspan></text>
<text class="t" transform="translate(342.4 381.55) rotate(-90)" x="-15.9" y="0" textLength="31.8" lengthAdjust="spacingAndGlyphs">mg/g Cre</text>
<text class="t" x="390.3" y="494.6" textLength="25.2" lengthAdjust="spacingAndGlyphs">Control</text>
<text class="t" x="442.7" y="494.6" textLength="29.9" lengthAdjust="spacingAndGlyphs">AD+MCI</text>
<text class="l" x="336.7" y="494.5">f</text>
</g>
</svg></body></html>
